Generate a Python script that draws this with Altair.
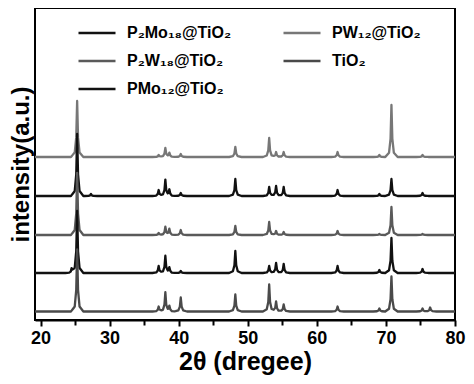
import altair as alt
import pandas as pd

# ---- data ----
series = ["PW₁₂@TiO₂", "P₂Mo₁₈@TiO₂", "P₂W₁₈@TiO₂", "PMo₁₂@TiO₂", "TiO₂"]  # top -> bottom
baselines = [163, 124, 85, 47, 8.5]   # vertical offsets (a.u.)
peak_pos = [24.5, 25.3, 27.3, 37.1, 38.07, 38.65, 40.3, 48.2, 53.1, 54.1, 55.2, 63.0, 69.05, 70.8, 75.3, 76.4]
heights = {
    "PW₁₂@TiO₂":   [0, 56, 0, 2, 9, 4, 3, 10, 19, 5, 5, 5, 2, 52, 2, 0],
    "P₂Mo₁₈@TiO₂": [0, 62, 2, 6, 16, 6, 3, 17, 9, 10, 9, 6, 2, 17, 3, 0],
    "P₂W₁₈@TiO₂":  [0, 62, 0, 2, 8, 6, 5, 9, 13, 4, 3, 4, 1, 28, 1, 0],
    "PMo₁₂@TiO₂":  [4, 62, 0, 7, 17, 5, 2, 22, 7, 10, 9, 7, 3, 35, 4, 0],
    "TiO₂":        [0, 62, 0, 5, 19, 5, 14, 17, 27, 10, 7, 5, 3, 35, 3, 4],
}
legend_order = ["P₂Mo₁₈@TiO₂", "P₂W₁₈@TiO₂", "PMo₁₂@TiO₂", "PW₁₂@TiO₂", "TiO₂"]
legend_colors = ["#111111", "#5a5a5a", "#111111", "#777777", "#4a4a4a"]
x_ticks = [20, 25, 30, 35, 40, 45, 50, 55, 60, 65, 70, 75, 80]

# peak profile (offsets in degrees, fraction of height)
shape_dx = [-0.9, -0.35, -0.13, 0, 0.13, 0.35, 0.9]
shape_f = [0, 0.08, 0.35, 1, 0.35, 0.08, 0]


def profile(x, pos, h):
    d = x - pos
    if d <= shape_dx[0] or d >= shape_dx[-1]:
        return 0.0
    for i in range(len(shape_dx) - 1):
        a, b = shape_dx[i], shape_dx[i + 1]
        if a <= d <= b:
            t = (d - a) / (b - a)
            return h * (shape_f[i] + t * (shape_f[i + 1] - shape_f[i]))
    return 0.0


xs = {19.2, 80.0}
for p in peak_pos:
    for dx in shape_dx:
        xs.add(round(p + dx, 3))
xs = sorted(x for x in xs if 19.2 <= x <= 80)

rows = []
for k, (name, base) in enumerate(zip(series, baselines)):
    for x in xs:
        y = base + sum(profile(x, p, h) for p, h in zip(peak_pos, heights[name]))
        rows.append({"series": name, "theta": x, "inten": y, "ord": k})
df = pd.DataFrame(rows)

chart = alt.Chart(df).mark_line(strokeWidth=2.3, strokeJoin="round").encode(
    x=alt.X("theta:Q", scale=alt.Scale(domain=[19.2, 80], nice=False, zero=False),
            axis=alt.Axis(values=x_ticks, title="2θ (dregee)",
                          labelExpr="datum.value % 10 == 0 ? datum.label : ''",
                          tickSize=alt.ExprRef("datum.value % 10 == 0 ? 6 : 5"),
                          labelFontSize=18, labelFontWeight="bold", labelPadding=3,
                          titleFontSize=25, titleFontWeight="bold", titlePadding=2,
                          domainColor="black", domainWidth=2, tickColor="black", tickWidth=2,
                          labelColor="black", titleColor="black", grid=False,
                          labelFlush=False)),
    y=alt.Y("inten:Q", scale=alt.Scale(domain=[0, 312], nice=False, zero=False),
            axis=alt.Axis(title="intensity(a.u.)", labels=False, ticks=False, domain=False,
                          grid=False, titleFontSize=24, titleFontWeight="bold",
                          titleColor="black", titlePadding=2)),
    color=alt.Color("series:N", scale=alt.Scale(domain=legend_order, range=legend_colors),
                    legend=alt.Legend(orient="none", legendX=42, legendY=5, columns=2,
                                      title=None, symbolType="stroke", symbolSize=1369,
                                      symbolStrokeWidth=2.3, labelFontSize=16,
                                      labelFontWeight="bold", labelColor="black",
                                      labelOffset=10, rowPadding=-9, columnPadding=46)),
    detail="ord:O",
    order="ord:O",
).properties(
    width=420, height=312,
    autosize=alt.AutoSizeParams(type="none"),
    padding={"left": 27, "top": 0, "right": 11, "bottom": 56},
).configure(
    font="Liberation Sans",
).configure_view(
    stroke="black", strokeWidth=2
)

chart.save("out.html", embed_options={"renderer": "svg", "actions": False})
